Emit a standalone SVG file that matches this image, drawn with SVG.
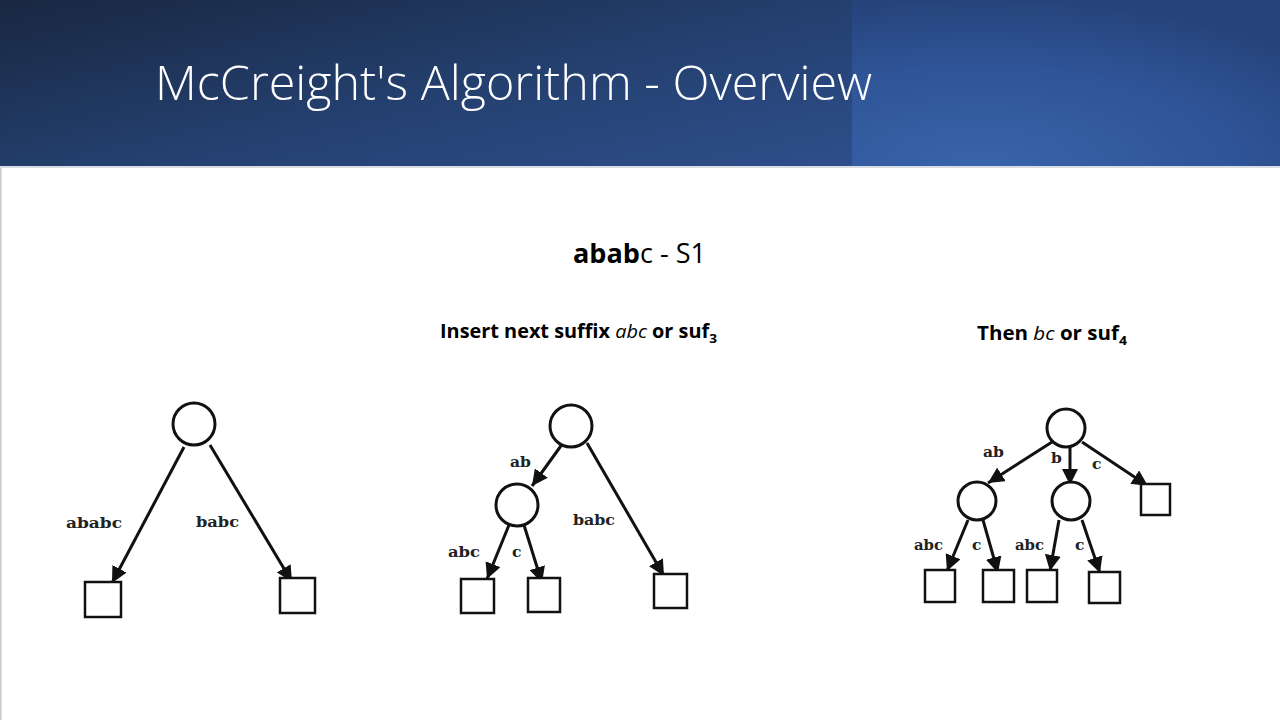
<svg xmlns="http://www.w3.org/2000/svg" width="1280" height="720" viewBox="0 0 1280 720">
<defs>
<linearGradient id="hdr" x1="0" y1="0" x2="1" y2="0.6">
<stop offset="0" stop-color="#192741"/>
<stop offset="0.5" stop-color="#24406f"/>
<stop offset="1" stop-color="#2f5190"/>
</linearGradient>
<radialGradient id="hdr2" cx="0.3" cy="1" r="1">
<stop offset="0" stop-color="#3964ab"/>
<stop offset="0.6" stop-color="#2f5497"/>
<stop offset="1" stop-color="#26447c"/>
</radialGradient>
<marker id="ah" markerUnits="userSpaceOnUse" markerWidth="18" markerHeight="16" refX="16" refY="8" orient="auto">
<path d="M0,0 L16,8 L0,16 Z" fill="#111"/>
</marker>
<style>
.e{stroke:#111;stroke-width:3;fill:none;marker-end:url(#ah)}
.n{stroke:#111;stroke-width:3;fill:#fff}
.l{stroke:#111;stroke-width:2.5;fill:#fff}
.lb{font-family:"DejaVu Serif","Liberation Serif",serif;font-weight:bold;font-size:15.5px;fill:#222}
.h{font-family:"Open Sans","Liberation Sans",sans-serif;fill:#000}
</style>
</defs>
<rect width="1280" height="720" fill="#fff"/>
<g id="header">
<rect x="0" y="0" width="1280" height="166" fill="url(#hdr)"/>
<rect x="852" y="0" width="428" height="166" fill="url(#hdr2)"/>
<rect x="0" y="166" width="1280" height="2" fill="#d9dde3"/>
<text x="155" y="100" font-family="Open Sans, Liberation Sans, sans-serif" font-weight="300" font-size="48" fill="#fff" textLength="717" lengthAdjust="spacingAndGlyphs">McCreight's Algorithm - Overview</text>
</g>
<rect x="0" y="168" width="1.5" height="552" fill="#c8c8c8"/>
<g id="titles">
<text class="h" x="573" y="263" font-size="27" textLength="133" lengthAdjust="spacingAndGlyphs"><tspan font-weight="bold">abab</tspan>c - S1</text>
<text class="h" x="440" y="338" font-size="19" font-weight="bold" textLength="277" lengthAdjust="spacingAndGlyphs">Insert next suffix <tspan font-style="italic" font-weight="normal">abc</tspan> or suf<tspan font-size="13" dy="5">3</tspan></text>
<text class="h" x="977" y="340" font-size="19" font-weight="bold" textLength="150" lengthAdjust="spacingAndGlyphs">Then <tspan font-style="italic" font-weight="normal">bc</tspan> or suf<tspan font-size="13" dy="5">4</tspan></text>
</g>
<g id="connectors">
<path class="e" d="M184,447 L112,583"/>
<path class="e" d="M210,445 L292,582"/>
<path class="e" d="M563,443 L532,486"/>
<path class="e" d="M587,443 L664,576"/>
<path class="e" d="M509,525 L487,579"/>
<path class="e" d="M524,525 L542,583"/>
<path class="e" d="M1052,442 L988,483"/>
<path class="e" d="M1070,447 L1070,485"/>
<path class="e" d="M1082,442 L1148,486"/>
<path class="e" d="M968,520 L947,571"/>
<path class="e" d="M983,520 L998,573"/>
<path class="e" d="M1059,520 L1050,571"/>
<path class="e" d="M1082,520 L1100,573"/>
</g>
<g id="tree1">
<circle class="n" cx="194" cy="424" r="21"/>
<rect class="l" x="85" y="582" width="36" height="35"/>
<rect class="l" x="280" y="578" width="35" height="35"/>
<text class="lb" x="66" y="528" textLength="56" lengthAdjust="spacingAndGlyphs">ababc</text>
<text class="lb" x="196" y="527" textLength="43" lengthAdjust="spacingAndGlyphs">babc</text>
</g>
<g id="tree2">
<circle class="n" cx="571" cy="426" r="21"/>
<circle class="n" cx="517" cy="505" r="21"/>
<rect class="l" x="461" y="579" width="33" height="34"/>
<rect class="l" x="528" y="578" width="32" height="34"/>
<rect class="l" x="654" y="574" width="33" height="34"/>
<text class="lb" x="510" y="467">ab</text>
<text class="lb" x="573" y="525" textLength="42" lengthAdjust="spacingAndGlyphs">babc</text>
<text class="lb" x="448" y="557" textLength="32" lengthAdjust="spacingAndGlyphs">abc</text>
<text class="lb" x="512" y="557">c</text>
</g>
<g id="tree3">
<circle class="n" cx="1066" cy="428" r="19"/>
<circle class="n" cx="977" cy="501" r="19"/>
<circle class="n" cx="1071" cy="501" r="19"/>
<rect class="l" x="1141" y="484" width="29" height="31"/>
<rect class="l" x="925" y="570" width="30" height="32"/>
<rect class="l" x="983" y="570" width="31" height="32"/>
<rect class="l" x="1027" y="570" width="30" height="32"/>
<rect class="l" x="1089" y="572" width="31" height="31"/>
<text class="lb" x="983" y="457">ab</text>
<text class="lb" x="1051" y="463">b</text>
<text class="lb" x="1092" y="469">c</text>
<text class="lb" x="914" y="550" textLength="29" lengthAdjust="spacingAndGlyphs">abc</text>
<text class="lb" x="972" y="550">c</text>
<text class="lb" x="1015" y="550" textLength="29" lengthAdjust="spacingAndGlyphs">abc</text>
<text class="lb" x="1075" y="550">c</text>
</g>
</svg>
